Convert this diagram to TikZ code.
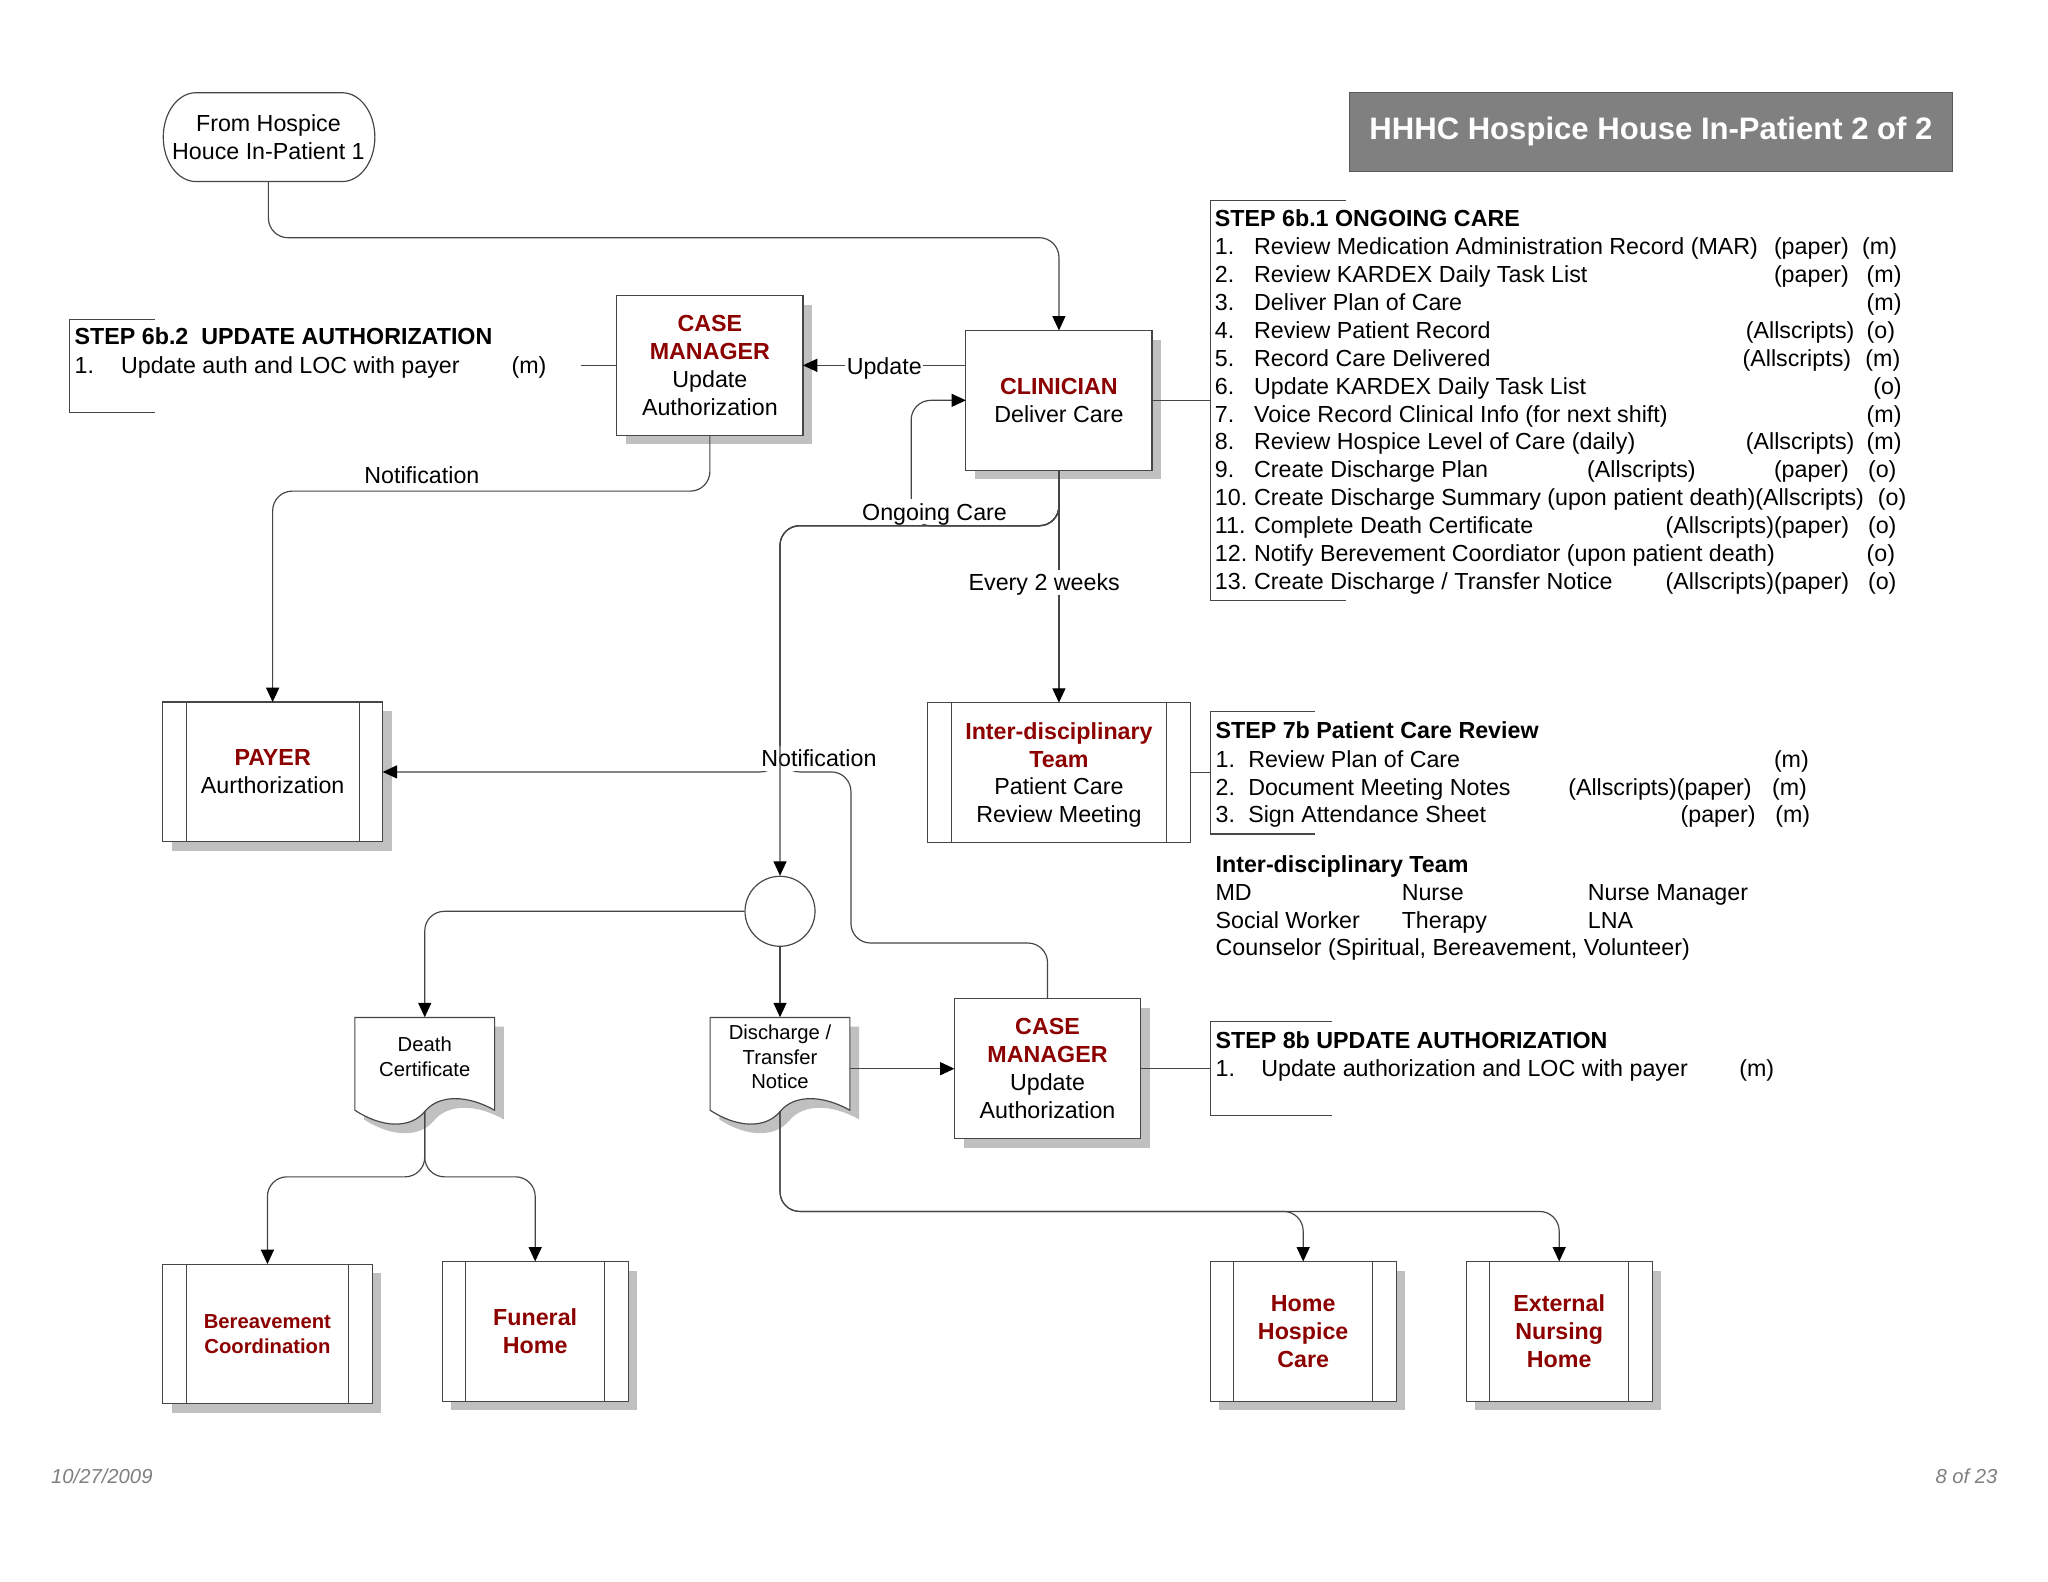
\documentclass[tikz,border=0pt]{standalone}
\usepackage{fontspec}
\setmainfont{Liberation Sans}
\usetikzlibrary{arrows.meta,shadows,calc}
\definecolor{dred}{RGB}{140,0,0}
\definecolor{lc}{RGB}{70,70,70}
\definecolor{shadc}{RGB}{192,192,192}
\definecolor{ttl}{RGB}{128,128,128}
\definecolor{foot}{RGB}{128,128,128}
\newcommand{\myf}{\fontsize{17.8}{21.4}\selectfont}
\newcommand{\mysm}{\fontsize{15.5}{19}\selectfont}
\newcommand{\hd}[1]{\textcolor{dred}{\bfseries #1}}
\begin{document}
\begin{tikzpicture}[x=1pt,y=-1pt,
  lw/.style={line width=0.9pt},
  conn/.style={draw=lc, lw, rounded corners=15pt},
  arr/.style={conn, -{Triangle[length=11pt,width=10pt,color=black]}},
  box/.style={draw=lc, lw, fill=white, inner sep=0pt, outer sep=0pt, align=center, font=\myf, text depth=0pt, minimum width=142.5pt, minimum height=107pt},
  shd/.style={drop shadow={shadow xshift=7pt, shadow yshift=-7pt, fill=shadc, opacity=1}},
  lab/.style={font=\myf, inner sep=3pt, text height=12.8pt, text depth=0pt},
  wlab/.style={lab, fill=white},
  ann/.style={anchor=base west, inner sep=0pt, font=\myf},
  brk/.style={draw=lc, lw},
]
\fill[white] (0,0) rectangle (1568,1211);
\useasboundingbox (0,0) rectangle (1568,1211);

% title
\node[fill=ttl, draw=black!65, lw, minimum width=462pt, minimum height=60pt, inner sep=0pt, text=white, font=\fontsize{23.8}{28}\selectfont\bfseries] (title) at (1264,101) {HHHC Hospice House In-Patient 2 of 2};

% start terminal
\draw[draw=lc, lw, fill=white] (150,71) -- (262,71) .. controls (275.8,71) and (287,86.2) .. (287,105) .. controls (287,123.8) and (275.8,139) .. (262,139) -- (150,139) .. controls (136.2,139) and (125,123.8) .. (125,105) .. controls (125,86.2) and (136.2,71) .. (150,71) -- cycle;
\node[font=\myf, align=center, minimum width=162pt, minimum height=68pt, inner sep=0pt, text depth=0pt] (from) at (205.5,105) {From Hospice\\Houce In-Patient 1};

% process boxes
\node[box, shd] (cm) at (543.5,279.7) {\hd{CASE}\\\hd{MANAGER}\\Update\\Authorization};
\node[box, shd] (clin) at (810.75,306.5) {\hd{CLINICIAN}\\Deliver Care};
\node[box, shd, minimum width=168.5pt] (payer) at (208.75,591) {\hd{PAYER}\\Aurthorization};
\node[box, minimum width=201pt] (idt) at (810.75,591.5) {\hd{Inter-disciplinary}\\\hd{Team}\\Patient Care\\Review Meeting};
\node[box, shd] (cm2) at (802,818.2) {\hd{CASE}\\\hd{MANAGER}\\Update\\Authorization};
\node[box, shd, minimum width=160.5pt, font=\mysm] (ber) at (204.75,1021.3) {\hd{Bereavement}\\\hd{Coordination}};
\node[box, shd] (fun) at (409.75,1019.3) {\hd{Funeral}\\\hd{Home}};
\node[box, shd] (hh) at (997.75,1019.3) {\hd{Home}\\\hd{Hospice}\\\hd{Care}};
\node[box, shd] (ext) at (1193.75,1019.3) {\hd{External}\\\hd{Nursing}\\\hd{Home}};
\foreach \n in {payer,idt,ber,fun,hh,ext}{
  \draw[brk] ([xshift=18pt]\n.north west) -- ([xshift=18pt]\n.south west);
  \draw[brk] ([xshift=-18pt]\n.north east) -- ([xshift=-18pt]\n.south east);
}

% decision circle
\node[circle, draw=lc, lw, fill=white, minimum size=53.6pt, inner sep=0pt] (dec) at (597.2,697.7) {};

% documents
\fill[shadc, shift={(7,7)}] (271.7,779) -- (378.7,779) -- (378.7,850) .. controls (357.3,838) and (335.9,838) .. (325.2,851) .. controls (314.5,864) and (293.1,864) .. (271.7,850) -- cycle;
\draw[draw=lc, lw, fill=white] (271.7,779) -- (378.7,779) -- (378.7,850) .. controls (357.3,838) and (335.9,838) .. (325.2,851) .. controls (314.5,864) and (293.1,864) .. (271.7,850) -- cycle;
\fill[shadc, shift={(7,7)}] (543.7,779) -- (650.7,779) -- (650.7,850) .. controls (629.3,838) and (607.9,838) .. (597.2,851) .. controls (586.5,864) and (565.1,864) .. (543.7,850) -- cycle;
\draw[draw=lc, lw, fill=white] (543.7,779) -- (650.7,779) -- (650.7,850) .. controls (629.3,838) and (607.9,838) .. (597.2,851) .. controls (586.5,864) and (565.1,864) .. (543.7,850) -- cycle;
\node[minimum width=107pt, minimum height=71pt, inner sep=0pt] (death) at (325.2,814.5) {};
\node[minimum width=107pt, minimum height=71pt, inner sep=0pt] (disch) at (597.2,814.5) {};
\node[font=\mysm, align=center, inner sep=0pt, text depth=0pt] (deatht) at (325.2,809) {Death\\Certificate};
\node[font=\mysm, align=center, inner sep=0pt, text depth=0pt] (discht) at (597.2,809) {Discharge /\\Transfer\\Notice};
\coordinate (deathb) at (325.2,851);
\coordinate (dischb) at (597.2,851);

% connectors
\draw[arr] (from.south) -- (205.5,182) -- (810.75,182) -- (clin.north);
\draw[arr] (clin.west |- cm.east) -- (cm.east);
\node[wlab, inner sep=1pt] (lupd) at (677,280) {Update};
\coordinate (c62) at (445,279.7);
\draw[conn] (cm.west) -- (c62);
\coordinate (c61) at (926.5,306.5);
\draw[conn] (clin.east) -- (c61);
\draw[arr] (cm.south) -- (543.5,376) -- (208.75,376) -- (payer.north);
\node[lab] (lnot1) at (323,364) {Notification};
\draw[arr] (clin.south) -- (810.75,402.5) -- (697.6,402.5) -- (697.6,306.5) -- (clin.west);
\node[wlab] (long) at (715.5,391.8) {Ongoing Care};
\draw[arr] (clin.south) -- (idt.north);
\node[wlab] (lev) at (799.5,446) {Every 2 weeks};
\draw[arr] (clin.south) -- (810.75,402.5) -- (597.2,402.5) -- (597.2,591) -- (payer.east);
\draw[conn] (clin.south) -- (810.75,402.5) -- (597.2,402.5) -- (597.2,591) -- (651.5,591) -- (651.5,722) -- (802,722) -- (cm2.north);
\node[wlab] (lnot2) at (627,580.7) {Notification};
\draw[arr] (clin.south) -- (810.75,402.5) -- (597.2,402.5) -- (dec.north);
\coordinate (c7) at (926.5,591.5);
\draw[conn] (idt.east) -- (c7);
\draw[arr] (dec.west) -- (325.2,697.7) -- (death.north);
\draw[arr] (dec.south) -- (disch.north);
\draw[arr] (cm2.west -| disch.east) -- (cm2.west);
\coordinate (c8) at (926.5,818.2);
\draw[conn] (cm2.east) -- (c8);
\draw[arr] (deathb) -- (325.2,901) -- (204.75,901) -- (ber.north);
\draw[arr] (deathb) -- (325.2,901) -- (409.75,901) -- (fun.north);
\draw[arr] (dischb) -- (597.2,927.5) -- (997.75,927.5) -- (hh.north);
\draw[arr] (dischb) -- (597.2,927.5) -- (1193.75,927.5) -- (ext.north);

% annotation brackets
\draw[brk] (118.5,244.4) -- (53.5,244.4) -- (53.5,316) -- (118.5,316);
\draw[brk] (1030.5,153.3) -- (926.5,153.3) -- (926.5,460) -- (1030.5,460);
\draw[brk] (1006.5,545) -- (926.5,545) -- (926.5,638.5) -- (1006.5,638.5);
\draw[brk] (1020,782) -- (926.5,782) -- (926.5,854) -- (1020,854);

% STEP 6b.2
\node[ann] (s62) at (57,264.1) {\bfseries STEP 6b.2\ \ UPDATE AUTHORIZATION};
\node[ann] (q1) at (57,286) {\makebox[35.5pt][l]{1.}Update auth and LOC with payer};
\node[ann] (qm) at (391.5,286) {(m)};

% STEP 6b.1
\node[ann] (s61) at (930,173.5) {\bfseries STEP 6b.1 ONGOING CARE};
\node[ann] (r1) at (930,194.9) {\makebox[30pt][l]{1.}Review Medication Administration Record (MAR)};
\node[ann] (p1) at (1358,194.9) {(paper)};
\node[ann] (m1) at (1425.5,194.9) {(m)};
\node[ann] (r2) at (930,216.3) {\makebox[30pt][l]{2.}Review KARDEX Daily Task List};
\node[ann] (p2) at (1358,216.3) {(paper)};
\node[ann] (m2) at (1429,216.3) {(m)};
\node[ann] (r3) at (930,237.6) {\makebox[30pt][l]{3.}Deliver Plan of Care};
\node[ann] (m3) at (1429,237.6) {(m)};
\node[ann] (r4) at (930,259) {\makebox[30pt][l]{4.}Review Patient Record};
\node[ann] (a4) at (1336.5,259) {(Allscripts)};
\node[ann] (m4) at (1429,259) {(o)};
\node[ann] (r5) at (930,280.4) {\makebox[30pt][l]{5.}Record Care Delivered};
\node[ann] (a5) at (1334,280.4) {(Allscripts)};
\node[ann] (m5) at (1428,280.4) {(m)};
\node[ann] (r6) at (930,301.8) {\makebox[30pt][l]{6.}Update KARDEX Daily Task List};
\node[ann] (m6) at (1434,301.8) {(o)};
\node[ann] (r7) at (930,323.2) {\makebox[30pt][l]{7.}Voice Record Clinical Info (for next shift)};
\node[ann] (m7) at (1429,323.2) {(m)};
\node[ann] (r8) at (930,344.5) {\makebox[30pt][l]{8.}Review Hospice Level of Care (daily)};
\node[ann] (a8) at (1336.5,344.5) {(Allscripts)};
\node[ann] (m8) at (1429,344.5) {(m)};
\node[ann] (r9) at (930,365.9) {\makebox[30pt][l]{9.}Create Discharge Plan};
\node[ann] (a9) at (1215,365.9) {(Allscripts)};
\node[ann] (p9) at (1358,365.9) {(paper)};
\node[ann] (m9) at (1430,365.9) {(o)};
\node[ann] (r10) at (930,387.3) {\makebox[30pt][l]{10.}Create Discharge Summary (upon patient death)(Allscripts)};
\node[ann] (m10) at (1437.5,387.3) {(o)};
\node[ann] (r11) at (930,408.7) {\makebox[30pt][l]{11.}Complete Death Certificate};
\node[ann] (a11) at (1275,408.7) {(Allscripts)(paper)};
\node[ann] (m11) at (1430,408.7) {(o)};
\node[ann] (r12) at (930,430.1) {\makebox[30pt][l]{12.}Notify Berevement Coordiator (upon patient death)};
\node[ann] (m12) at (1429,430.1) {(o)};
\node[ann] (r13) at (930,451.4) {\makebox[30pt][l]{13.}Create Discharge / Transfer Notice};
\node[ann] (a13) at (1275,451.4) {(Allscripts)(paper)};
\node[ann] (m13) at (1430,451.4) {(o)};

% STEP 7b
\node[ann] (s7) at (930.5,565.5) {\bfseries STEP 7b Patient Care Review};
\node[ann] (t1) at (930.5,587.4) {\makebox[25pt][l]{1.}Review Plan of Care};
\node[ann] (tm1) at (1358,587.4) {(m)};
\node[ann] (t2) at (930.5,608.7) {\makebox[25pt][l]{2.}Document Meeting Notes};
\node[ann] (ta2) at (1200.5,608.7) {(Allscripts)(paper)};
\node[ann] (tm2) at (1356.5,608.7) {(m)};
\node[ann] (t3) at (930.5,629.9) {\makebox[25pt][l]{3.}Sign Attendance Sheet};
\node[ann] (tp3) at (1286.5,629.9) {(paper)};
\node[ann] (tm3) at (1359,629.9) {(m)};

% team
\node[ann] (it) at (930.5,668) {\bfseries Inter-disciplinary Team};
\node[ann] (i1) at (930.5,689.1) {MD};
\node[ann] (i2) at (1073,689.1) {Nurse};
\node[ann] (i3) at (1215.5,689.1) {Nurse Manager};
\node[ann] (i4) at (930.5,710.5) {Social Worker};
\node[ann] (i5) at (1073,710.5) {Therapy};
\node[ann] (i6) at (1215.5,710.5) {LNA};
\node[ann] (i7) at (930.5,731.6) {Counselor (Spiritual, Bereavement, Volunteer)};

% STEP 8b
\node[ann] (s8) at (930.5,802.4) {\bfseries STEP 8b UPDATE AUTHORIZATION};
\node[ann] (u1) at (930.5,824.5) {\makebox[35pt][l]{1.}Update authorization and LOC with payer};
\node[ann] (um) at (1331.5,824.5) {(m)};

% footer
\node[ann, font=\mysm\itshape, text=foot] (fd) at (39,1135.6) {10/27/2009};
\node[anchor=base east, inner sep=0pt, font=\mysm\itshape, text=foot] (fp) at (1529.5,1135.6) {8 of 23};
\end{tikzpicture}
\end{document}
